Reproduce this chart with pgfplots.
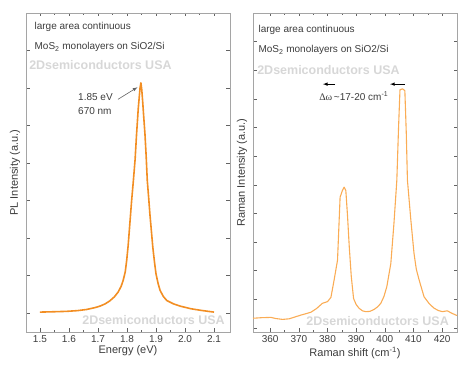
\documentclass[border=0pt]{standalone}
\usepackage{pgfplots}
\pgfplotsset{compat=1.18}
\usepackage{fontspec}
\setmainfont{Liberation Sans}
\newfontfamily\serifgreek{Liberation Serif}
\definecolor{txt}{RGB}{60,60,60}
\definecolor{frame}{RGB}{165,165,165}
\definecolor{wm}{RGB}{215,215,215}
\definecolor{plc}{RGB}{242,142,35}
\definecolor{ramc}{RGB}{250,172,85}
\pgfplotsset{
  panel/.style={
    scale only axis, width=204pt, height=319pt,
    axis line style={frame, line width=0.8pt},
    tick style={txt!80, line width=0.5pt},
    tick align=inside,
    major tick length=3.5pt, minor tick length=2pt,
    yticklabels={},
    xticklabel style={font=\fontsize{10}{12}\selectfont, text=txt},
    label style={font=\fontsize{11}{13}\selectfont, text=txt},
    /pgf/number format/assume math mode=true,
    clip=false,
  }
}
\begin{document}
\begin{tikzpicture}
\path[use as bounding box] (-26pt,-34pt) rectangle (448pt,332pt);
% ---------- PL panel ----------
\begin{axis}[panel, at={(0pt,0pt)},
  xmin=1.452, xmax=2.155, ymin=-0.5, ymax=8,
  xtick={1.5,1.6,1.7,1.8,1.9,2.0,2.1},
  xticklabels={1.5,1.6,1.7,1.8,1.9,2.0,2.1},
  minor x tick num=1,
  ytick={0,1,2,3,4,5,6,7,8},
  xlabel={Energy (eV)}, ylabel={PL Intensity (a.u.)},
  xlabel style={at={(axis description cs:0.5,0)}, anchor=center, yshift=-19pt},
  ylabel style={at={(axis description cs:-0.054,0.5)}, anchor=center},
]
\addplot[plc, line width=1.6pt, line join=round] coordinates {
(1.50,0.03)(1.55,0.04)(1.592,0.05)(1.63,0.07)(1.661,0.10)(1.69,0.15)(1.707,0.19)
(1.725,0.25)(1.741,0.33)(1.757,0.44)(1.770,0.57)(1.780,0.72)(1.787,0.88)(1.794,1.10)
(1.799,1.41)(1.804,1.80)(1.808,2.20)(1.812,2.60)(1.816,3.00)(1.822,3.53)(1.828,4.10)
(1.833,4.77)(1.839,5.47)(1.845,6.00)(1.848,6.14)(1.851,5.95)(1.854,5.65)(1.858,5.20)
(1.862,4.77)(1.866,4.20)(1.870,3.53)(1.875,3.05)(1.879,2.64)(1.884,2.20)(1.889,1.76)
(1.895,1.35)(1.900,1.05)(1.907,0.80)(1.914,0.61)(1.925,0.45)(1.937,0.34)(1.96,0.25)
(1.983,0.19)(2.02,0.12)(2.052,0.08)(2.08,0.05)(2.10,0.03)
};
\node[anchor=west, text=txt, font=\fontsize{10}{12}\selectfont] at (rel axis cs:0.025,0.956) {large area continuous};
\node[anchor=west, text=txt, font=\fontsize{10}{12}\selectfont] at (rel axis cs:0.025,0.893) {MoS\textsubscript{2} monolayers on SiO2/Si};
\node[anchor=west, text=wm, font=\bfseries\fontsize{12.5}{14}\selectfont, inner sep=0pt] at (rel axis cs:0.015,0.837) {2Dsemiconductors USA};
\node[anchor=east, text=wm, font=\bfseries\fontsize{12.5}{14}\selectfont, inner sep=0pt] at (rel axis cs:0.975,0.038) {2Dsemiconductors USA};
\node[anchor=west, text=txt, font=\fontsize{10}{12}\selectfont, inner sep=0pt] at (rel axis cs:0.255,0.737) {1.85 eV};
\node[anchor=west, text=txt, font=\fontsize{10}{12}\selectfont, inner sep=0pt] at (rel axis cs:0.255,0.693) {670 nm};
\draw[-latex, txt!80, line width=0.6pt] (axis cs:1.769,5.70) -- (axis cs:1.836,6.02);
\end{axis}
% ---------- Raman panel ----------
\begin{axis}[panel, at={(227pt,0pt)},
  xmin=354, xmax=425.2, ymin=-0.14, ymax=11,
  xtick={360,370,380,390,400,410,420},
  minor x tick num=1,
  ytick={0,1,2,3,4,5,6,7,8,9,10,11},
  xlabel={Raman shift (cm\textsuperscript{-1})}, ylabel={Raman Intensity (a.u.)},
  xlabel style={at={(axis description cs:0.5,0)}, anchor=center, yshift=-21pt},
  ylabel style={at={(axis description cs:-0.054,0.5)}, anchor=center},
]
\addplot[ramc, line width=1.1pt, line join=round] coordinates {
(354.0,0.34)(357,0.36)(360.2,0.37)(362,0.33)(364.3,0.30)(366.6,0.32)(368.5,0.38)
(370.7,0.45)(372.5,0.50)(374.2,0.55)(376.2,0.68)(378.2,0.86)(380,0.92)(381.2,1.07)
(382.3,1.67)(383.5,2.37)(384.4,4.57)(385.2,4.80)(385.8,4.92)(386.4,4.80)(387.0,3.90)
(387.6,2.83)(388.3,1.80)(389.1,1.03)(390.0,0.82)(391.0,0.69)(392.2,0.60)(393.4,0.57)
(394.8,0.58)(396.3,0.65)(397.5,0.74)(398.6,0.86)(399.7,1.10)(400.7,1.44)(402.1,2.25)
(403.2,3.66)(404.2,5.16)(404.8,7.00)(405.3,8.32)(406.2,8.35)(407.0,8.29)(407.5,6.80)
(407.9,5.16)(409.1,3.76)(410.2,2.60)(411.0,2.05)(412.0,1.67)(413.7,1.09)(415.5,0.85)
(417.2,0.69)(418.7,0.61)(420.1,0.57)(421.8,0.60)(423.3,0.52)(424.8,0.45)(425.2,0.44)
};
\node[anchor=west, text=txt, font=\fontsize{10}{12}\selectfont] at (rel axis cs:0.01,0.947) {large area continuous};
\node[anchor=west, text=txt, font=\fontsize{10}{12}\selectfont] at (rel axis cs:0.01,0.884) {MoS\textsubscript{2} monolayers on SiO2/Si};
\node[anchor=west, text=wm, font=\bfseries\fontsize{12.5}{14}\selectfont, inner sep=0pt] at (rel axis cs:0.02,0.821) {2Dsemiconductors USA};
\node[anchor=east, text=wm, font=\bfseries\fontsize{12.5}{14}\selectfont, inner sep=0pt] at (rel axis cs:0.961,0.034) {2Dsemiconductors USA};
\node[anchor=west, text=txt, font=\fontsize{10}{12}\selectfont, inner sep=0pt] at (rel axis cs:0.324,0.740) {{\serifgreek Δω}\,\textasciitilde17-20 cm\textsuperscript{-1}};
\draw[-latex, black, line width=0.6pt] (rel axis cs:0.402,0.777) -- (rel axis cs:0.343,0.777);
\draw[-latex, black, line width=0.6pt] (rel axis cs:0.745,0.777) -- (rel axis cs:0.672,0.777);
\end{axis}
\end{tikzpicture}
\end{document}
